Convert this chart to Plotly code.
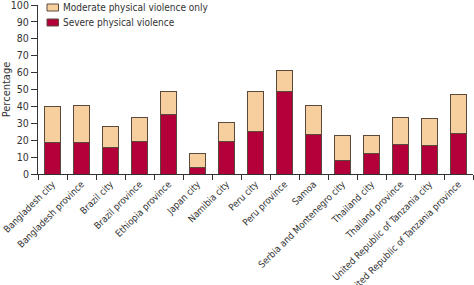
import plotly.graph_objects as go

categories = ["Bangladesh city", "Bangladesh province", "Brazil city", "Brazil province",
              "Ethiopia province", "Japan city", "Namibia city", "Peru city", "Peru province",
              "Samoa", "Serbia and Montenegro city", "Thailand city", "Thailand province",
              "United Republic of Tanzania city", "United Republic of Tanzania province"]
severe = [18.7, 18.9, 15.8, 19.3, 35.3, 3.8, 19.3, 25.4, 48.8, 23.4, 7.8, 12.3, 17.6, 16.6, 24.0]
total = [39.7, 40.6, 27.9, 33.6, 49.0, 12.4, 30.6, 49.0, 61.1, 40.8, 22.8, 22.8, 33.6, 32.6, 46.9]
moderate = [round(t - s, 1) for t, s in zip(total, severe)]
y_ticks = [0, 10, 20, 30, 40, 50, 60, 70, 80, 90, 100]
series_names = ["Moderate physical violence only", "Severe physical violence"]
series_colors = ["#f7cf9f", "#b3003a"]

line = dict(color="#5b4a3c", width=1)
fig = go.Figure()
fig.add_trace(go.Bar(x=categories, y=severe, name=series_names[1],
                     marker=dict(color=series_colors[1], line=line)))
fig.add_trace(go.Bar(x=categories, y=moderate, name=series_names[0],
                     marker=dict(color=series_colors[0], line=line)))

# manual legend (paper coordinates)
W, H, L, T = 435.0, 169.0, 38.0, 5.0
def px_x(p): return (p - L) / W
def px_y(p): return 1 - (p - T) / H
legend_rows = [(4, 11), (19, 26)]
for (y0, y1), name, color in zip(legend_rows, series_names, series_colors):
    fig.add_shape(type="rect", xref="paper", yref="paper",
                  x0=px_x(47), x1=px_x(58.5), y0=px_y(y1), y1=px_y(y0),
                  fillcolor=color, line=dict(color="#5b4a3c", width=1))
    fig.add_annotation(xref="paper", yref="paper", x=px_x(61), y=px_y((y0 + y1) / 2),
                       xanchor="left", yanchor="middle", text=name, showarrow=False,
                       font=dict(size=10, color="#333333"))

font = "DejaVu Sans Condensed, Liberation Sans Narrow, Liberation Sans, Arial, sans-serif"
fig.update_layout(
    width=474, height=285, barmode="stack", bargap=0.45,
    margin=dict(l=38, r=1, t=5, b=111),
    paper_bgcolor="white", plot_bgcolor="white",
    font=dict(family=font, size=10, color="#333333"),
    showlegend=False,
    xaxis=dict(tickangle=-45, tickson="boundaries", ticks="outside", ticklen=5,
               tickcolor="#333", showline=True, linecolor="#333", linewidth=1,
               range=[-0.5, 14.5], tickfont=dict(size=9.5), automargin=False),
    yaxis=dict(range=[0, 100], tickvals=y_ticks, ticks="outside", ticklen=6,
               tickcolor="#333", showline=True, linecolor="#333", linewidth=1,
               showgrid=False, zeroline=False, tickfont=dict(size=10.5), automargin=False,
               ticklabeloverflow="allow",
               title=dict(text="Percentage", standoff=3, font=dict(size=11))),
)
fig.write_html("out.html")
